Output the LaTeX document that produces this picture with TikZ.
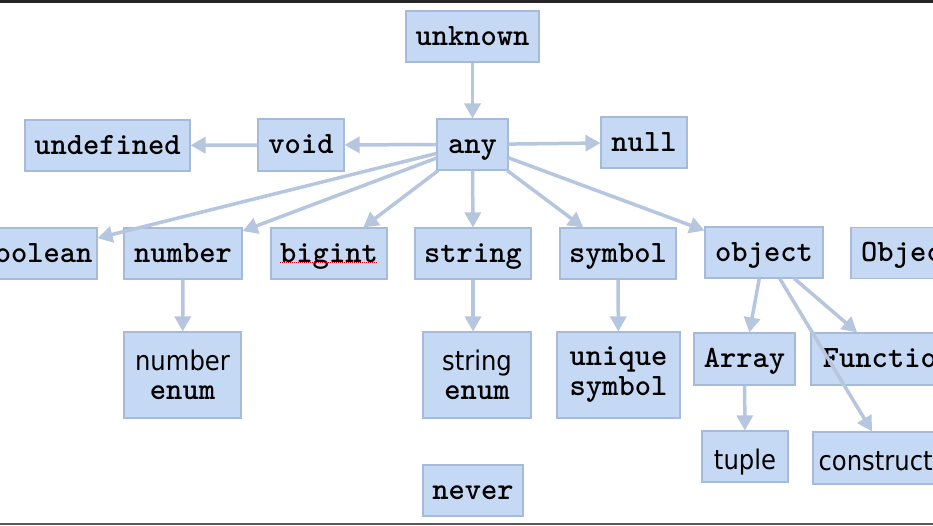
\documentclass[tikz,border=0pt]{standalone}
\usepackage{fontspec}
\newfontfamily\sansf{DejaVu Sans Condensed}
\usetikzlibrary{arrows.meta,calc}
\definecolor{boxfill}{HTML}{C6D9F4}
\definecolor{boxline}{HTML}{A6BBDA}
\definecolor{arr}{HTML}{B6C6DE}
\tikzset{
  tbox/.style={draw=boxline, line width=1.1pt, fill=boxfill, inner sep=0pt,
    font=\fontsize{31}{30}\selectfont\ttfamily\bfseries, text height=22pt, text depth=5pt, align=center},
  sbox/.style={tbox, font=\fontsize{27}{30}\selectfont\sansf, text height=25pt, text depth=0pt},
  twoA/.style={font=\fontsize{31}{28.5}\selectfont\ttfamily\bfseries, text height={}, text depth={}},
  twoB/.style={font=\fontsize{31}{30}\selectfont\ttfamily\bfseries, text height={}, text depth={}},
  sz/.style n args={2}{minimum width=#1pt, minimum height=#2pt},
  link/.style={draw=arr, line width=3.5pt, -{Triangle[length=15pt,width=16pt]}}
}
\newcommand\sanspart[1]{{\fontsize{27}{28.5}\selectfont\sansf\mdseries #1}}
\begin{document}
\begin{tikzpicture}[x=1pt, y=-1pt]
\useasboundingbox (0,0) rectangle (933,525);
\clip (0,0) rectangle (933,525);
\fill[white] (0,0) rectangle (933,525);
% nodes
\node[tbox, sz={133}{51}] (unknown) at (472.5,36.5) {unknown};
\node[tbox, sz={71}{51}] (any) at (472.5,144.5) {any};
\node[tbox, sz={86}{52}] (void) at (301,145) {void};
\node[tbox, sz={165}{51}] (undefined) at (107.5,145.5) {undefined};
\node[tbox, sz={86}{51}] (null) at (644,142.5) {null};
\node[tbox, sz={123}{51}] (boolean) at (35.5,253.5) {boolean};
\node[tbox, sz={118}{51}] (number) at (183,253.5) {number};
\node[tbox, sz={116}{51}] (bigint) at (329,253.5) {bigint};
\node[tbox, sz={116}{51}] (string) at (473,253.5) {string};
\node[tbox, sz={116}{51}] (symbol) at (618,253.5) {symbol};
\node[tbox, sz={118}{51}] (object) at (764,252.5) {object};
\node[tbox, sz={118}{51}] (Object) at (910,253) {Object};
\node[tbox, twoA, sz={117}{86}] (numenum) at (182.5,375) {\sanspart{number}\\enum};
\node[tbox, twoA, sz={108}{86}] (strenum) at (477,375) {\sanspart{string}\\enum};
\node[tbox, twoB, sz={123}{86}] (unique) at (618.5,375) {unique\\symbol};
\node[tbox, sz={101}{52}] (Array) at (744.5,359) {Array};
\node[tbox, sz={154}{52}] (Function) at (888,359) {Function};
\node[sbox, sz={86}{51}] (tuple) at (745,456.5) {tuple};
\node[sbox, sz={150}{52}] (constructor) at (888,458) {constructor};
\node[tbox, sz={100}{51}] (never) at (473,490.5) {never};
% spell-check underline
\draw[red!80!black, densely dotted, line width=1pt] ($(bigint.center)+(-49,9)$) coordinate (sq1) -- ($(bigint.center)+(49,9)$) coordinate (sq2);
% connectors
\draw[link] (unknown) -- (any);
\draw[link] (any) -- (void);
\draw[link] (void) -- (undefined);
\draw[link] (any) -- (null);
\draw[link] (any) -- (boolean);
\draw[link] (any) -- (number);
\draw[link] (any) -- (bigint);
\draw[link] (any) -- (string);
\draw[link] (any) -- (symbol);
\draw[link] (any) -- (object);
\draw[link] (number) -- (numenum);
\draw[link] (string) -- (strenum.north -| string);
\draw[link] (symbol) -- (unique);
\draw[link] (object) -- (Array);
\draw[link] (object) -- (Function);
\draw[link] (object) -- (constructor);
\draw[link] (Array) -- (tuple);
% frame lines
\fill[black!85] (0,0) rectangle (933,2.5);
\fill[black!65] (0,523) rectangle (933,525);
\end{tikzpicture}
\end{document}
